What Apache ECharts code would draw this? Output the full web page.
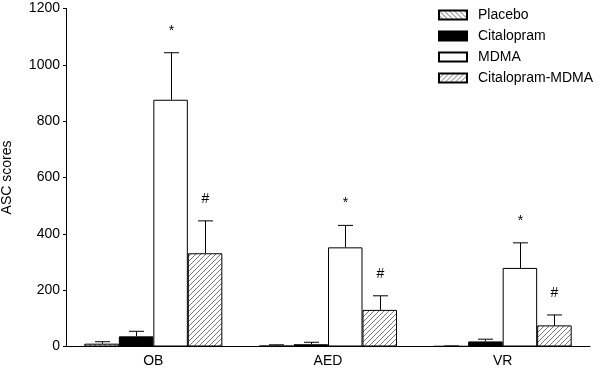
<!DOCTYPE html>
<html>
<head>
<meta charset="utf-8">
<script src="https://cdn.jsdelivr.net/npm/echarts@6/dist/echarts.min.js"></script>
<style>
html,body{margin:0;padding:0;background:#fff;}
#chart{width:600px;height:369px;}
</style>
</head>
<body>
<div id="chart"></div>
<script>
// categories and values
var categories = ['OB', 'AED', 'VR'];
var seriesNames = ['Placebo', 'Citalopram', 'MDMA', 'Citalopram-MDMA'];
var placebo = [10, 3, 1];
var placeboErr = [17, 6, 2];
var citalopram = [36, 8, 18];
var citalopramErr = [54, 15, 26];
var mdma = [876, 352, 279];
var mdmaErr = [1043, 430, 368];
var citMdma = [331, 130, 75];
var citMdmaErr = [446, 180, 112];
var mdmaMark = ['*', '*', '*'];
var citMdmaMark = ['#', '#', '#'];
var yTicks = [0, 200, 400, 600, 800, 1000, 1200];

var BAR_W = 34.5;
var FONT = 'Liberation Sans, Arial, sans-serif';

// hatch tile, dir 1 = "/" , dir -1 = "\"
function hatch(dir, size, color){
	var c = document.createElement('canvas');
	c.width = size; c.height = size;
	var ctx = c.getContext('2d');
	ctx.fillStyle = '#fff';
	ctx.fillRect(0, 0, size, size);
	ctx.strokeStyle = color;
	ctx.lineWidth = 0.8;
	ctx.beginPath();
	for (var k = -1; k <= 1; k++) {
		if (dir > 0) {
			ctx.moveTo(k * size, size);
			ctx.lineTo(k * size + size, 0);
		} else {
			ctx.moveTo(k * size, 0);
			ctx.lineTo(k * size + size, size);
		}
	}
	ctx.stroke();
	return {image: c, repeat: 'repeat'};
}

var fills = [hatch(-1, 5, '#444'), '#000', '#fff', hatch(1, 5, '#555')];
var values = [placebo, citalopram, mdma, citMdma];
var errs = [placeboErr, citalopramErr, mdmaErr, citMdmaErr];
var marks = [null, null, mdmaMark, citMdmaMark];

var series = [];
for (var s = 0; s < 4; s++) {
	series.push({
		name: seriesNames[s],
		type: 'bar',
		barWidth: BAR_W,
		barGap: '0%',
		data: values[s],
		itemStyle: {color: fills[s], borderColor: '#000', borderWidth: 1},
		silent: true,
		z: 2
	});
}

// error bars (upper only) and significance marks
for (var s = 0; s < 4; s++) {
	(function(si){
		var data = [];
		for (var i = 0; i < categories.length; i++) {
			data.push([i, values[si][i], errs[si][i], marks[si] ? marks[si][i] : '']);
		}
		series.push({
			type: 'custom',
			silent: true,
			z: 3,
			data: data,
			renderItem: function(params, api){
				var base = api.coord([api.value(0), api.value(1)]);
				var top = api.coord([api.value(0), api.value(2)]);
				var x = Math.round(base[0] + (si - 1.5) * BAR_W) + 0.5;
				var children = [
					{type: 'line', shape: {x1: x, y1: base[1], x2: x, y2: top[1]}, style: {stroke: '#000', lineWidth: 1}},
					{type: 'line', shape: {x1: x - 7.5, y1: top[1], x2: x + 7.5, y2: top[1]}, style: {stroke: '#000', lineWidth: 1}}
				];
				var m = data[params.dataIndex][3];
				if (m) {
					children.push({type: 'text', style: {text: m, x: x, y: top[1] - 22, align: 'center', verticalAlign: 'middle', font: '14px ' + FONT, fill: '#000'}});
				}
				return {type: 'group', children: children};
			}
		});
	})(s);
}

var myChart = echarts.init(document.getElementById('chart'));
var option = {
	animation: false,
	backgroundColor: '#fff',
	textStyle: {fontFamily: FONT},
	grid: {left: 66, right: 10, top: 8.5, bottom: 22.5, outerBoundsMode: 'none', containLabel: false},
	legend: {
		orient: 'vertical',
		left: 438,
		top: 8,
		padding: 0,
		itemWidth: 28,
		itemHeight: 9,
		itemGap: 7,
		icon: 'rect',
		selectedMode: false,
		textStyle: {fontSize: 14, color: '#000', fontFamily: FONT, padding: [0, 0, 0, 6]},
		data: seriesNames
	},
	xAxis: {
		type: 'category',
		data: categories,
		axisLine: {lineStyle: {color: '#000', width: 1}},
		axisTick: {show: false},
		axisLabel: {fontSize: 14, color: '#000', margin: 8}
	},
	yAxis: {
		type: 'value',
		min: yTicks[0],
		max: yTicks[yTicks.length - 1],
		interval: 200,
		name: 'ASC scores',
		nameLocation: 'middle',
		nameGap: 52,
		nameTextStyle: {fontSize: 14, color: '#000'},
		axisLine: {show: true, lineStyle: {color: '#000', width: 1}},
		axisTick: {show: true, length: 3, lineStyle: {color: '#000'}},
		axisLabel: {fontSize: 14, color: '#000', margin: 6, formatter: function(v){ return String(v); }},
		splitLine: {show: false}
	},
	series: series
};
myChart.setOption(option);
window.onresize = myChart.resize;
</script>
</body>
</html>
